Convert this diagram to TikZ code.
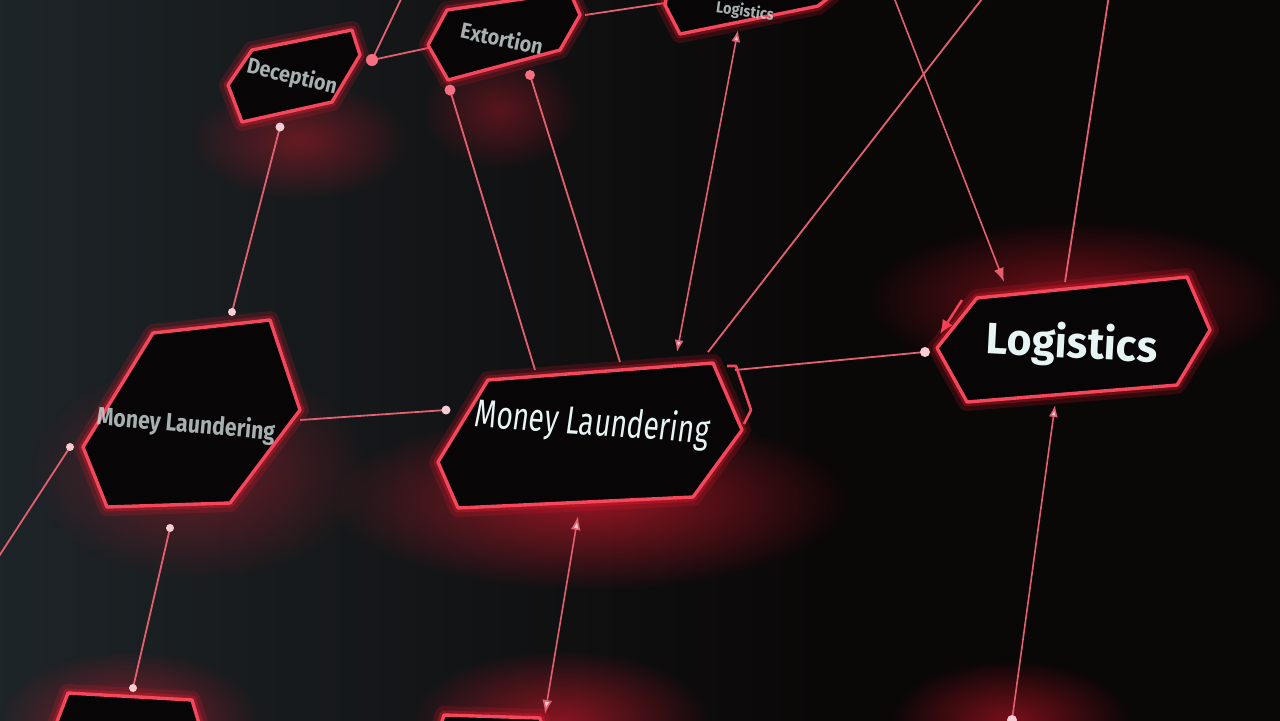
\documentclass[tikz,border=0pt]{standalone}
\usepackage{fontspec}
\setmainfont{Fira Sans}
\usetikzlibrary{fadings,arrows.meta}
\definecolor{bgL}{HTML}{1E2529}
\definecolor{bgR}{HTML}{0A0707}
\definecolor{edge}{HTML}{F4475C}
\definecolor{wire}{HTML}{E2606F}
\definecolor{dotc}{HTML}{F7CDD3}
\definecolor{txt}{HTML}{E6F4F4}
\definecolor{glow}{HTML}{FF1A30}
\definecolor{boxfill}{HTML}{070506}
\tikzfading[name=glowfade, inner color=transparent!0, outer color=transparent!100]
\newcommand\glowhex[1]{%
  \draw[glowA] #1; \draw[glowB] #1; \draw[hexedge] #1;}
\begin{document}
\begin{tikzpicture}[x=0.5pt,y=-0.5pt,
  glowA/.style={draw=glow, line width=9pt, opacity=0.16, line join=round},
  glowB/.style={draw=glow, line width=4.5pt, opacity=0.28, line join=round},
  hexedge/.style={draw=edge, line width=1.7pt, fill=boxfill, line join=round},
  wireline/.style={draw=wire, line width=0.9pt},
  haze/.style={fill=glow, path fading=glowfade},
  dotend/.style={fill=dotc, draw=none},
  lab/.style={text=txt, inner sep=0pt},
  blurlab/.style={text=txt!85!black, inner sep=0pt, opacity=0.85, font=\bfseries\fontsize{11}{12}\selectfont}
]
\useasboundingbox (0,0) rectangle (1280,720);
\clip (0,0) rectangle (1280,720);
% background
\fill[bgR] (-20,-20) rectangle (1300,740);
\shade[left color=bgL, right color=bgR] (-20,-20) rectangle (820,740);
% red haze
\fill[haze, opacity=0.55] (590,500) ellipse [x radius=260, y radius=90];
\fill[haze, opacity=0.45] (1075,300) ellipse [x radius=210, y radius=80];
\fill[haze, opacity=0.35] (300,140) ellipse [x radius=110, y radius=60];
\fill[haze, opacity=0.35] (200,470) ellipse [x radius=170, y radius=110];
\fill[haze, opacity=0.45] (130,720) ellipse [x radius=130, y radius=70];
\fill[haze, opacity=0.5] (560,720) ellipse [x radius=150, y radius=70];
\fill[haze, opacity=0.45] (1010,720) ellipse [x radius=120, y radius=60];
\fill[haze, opacity=0.3] (500,110) ellipse [x radius=80, y radius=60];

% coordinates of connector ends
\coordinate (nTop) at (232,312);
\coordinate (dBot) at (280,127);
\coordinate (nBot) at (170,528);
\coordinate (bTop) at (133,688);
\coordinate (nRight) at (300,420);
\coordinate (mLeft) at (446,410);
\coordinate (nLeft) at (70,447);
\coordinate (offL) at (-10,570);
\coordinate (dJoin) at (372,60);
\coordinate (eLeft) at (428,48);
\coordinate (offT1) at (403,-5);
\coordinate (eRight) at (585,15);
\coordinate (tLeft) at (665,3);
\coordinate (eB1) at (450,90);
\coordinate (eB2) at (530,75);
\coordinate (mT1) at (535,370);
\coordinate (mT2) at (620,362);
\coordinate (tBot) at (738,30);
\coordinate (mT3) at (677,352);
\coordinate (mT4) at (708,352);
\coordinate (offT2) at (985,-5);
\coordinate (offT3) at (893,-5);
\coordinate (lT1) at (1004,282);
\coordinate (lT2) at (1065,282);
\coordinate (offT4) at (1109,-5);
\coordinate (mRight) at (735,370);
\coordinate (lLeft) at (925,352);
\coordinate (rA) at (962,300);
\coordinate (rB) at (940,334);
\coordinate (lBot) at (1055,405);
\coordinate (rBot) at (1012,720);
\coordinate (mBot) at (578,516);
\coordinate (cTop) at (545,714);

% connectors
\draw[wireline] (nTop) -- (dBot);
\draw[wireline] (nBot) -- (bTop);
\draw[wireline] (nRight) -- (mLeft);
\draw[wireline] (nLeft) -- (offL);
\draw[wireline] (dJoin) -- (eLeft);
\draw[wireline] (dJoin) -- (offT1);
\draw[wireline] (eRight) -- (tLeft);
\draw[wireline] (eB1) -- (mT1);
\draw[wireline] (eB2) -- (mT2);
\draw[wireline] (mT4) -- (offT2);
\draw[wireline] (mRight) -- (lLeft);
\draw[wireline] (lT2) -- (offT4);
\draw[wireline, line width=0.8pt, {Latex[length=6pt,width=4.5pt,fill=dotc]}-{Latex[length=6pt,width=4.5pt,fill=dotc]}] (tBot) -- (mT3);
\draw[wireline, line width=0.8pt, -{Latex[length=7pt,width=5pt]}] (offT3) -- (lT1);
\draw[wireline, draw=edge, line width=1.2pt, -{Latex[length=7pt,width=6pt]}] (rA) -- (rB);
\draw[wireline, line width=0.8pt, {Latex[length=7pt,width=5pt,fill=dotc]}-{Latex[length=7pt,width=5pt,fill=dotc]}] (mBot) -- (cTop);
\draw[wireline, line width=0.8pt, {Latex[length=6pt,width=4.5pt,fill=dotc]}-] (lBot) -- (rBot);

% boxes
\glowhex{(438,462) -- (488,380) -- (713,363) -- (742,430) -- (693,497) -- (458,508) -- cycle}
\draw[edge, line width=1.3pt, line join=round] (727,366) -- (736,366) -- (751,410) -- (744,424);
\glowhex{(937,348) -- (977,298) -- (1187,277) -- (1210,330) -- (1177,385) -- (967,402) -- cycle}
\glowhex{(83,447) -- (153,333) -- (270,320) -- (300,410) -- (230,503) -- (107,507) -- cycle}
\glowhex{(228,85) -- (252,50) -- (352,30) -- (360,55) -- (332,102) -- (242,122) -- cycle}
\glowhex{(428,45) -- (447,10) -- (570,-8) -- (580,15) -- (560,50) -- (448,80) -- cycle}
\glowhex{(665,5) -- (672,-30) -- (830,-30) -- (832,-5) -- (818,6) -- (680,34) -- cycle}
\glowhex{(50,740) -- (68,693) -- (192,700) -- (204,740) -- cycle}
\glowhex{(436,740) -- (444,715) -- (540,718) -- (546,740) -- cycle}

% dots
\fill[dotend] (nTop) circle [radius=4];
\fill[dotend] (dBot) circle [radius=4.5];
\fill[dotend] (nBot) circle [radius=4];
\fill[dotend] (bTop) circle [radius=4];
\fill[dotend] (mLeft) circle [radius=4.5];
\fill[dotend] (nLeft) circle [radius=4];
\fill[dotend, fill=edge!70!dotc] (dJoin) circle [radius=6];
\fill[dotend, fill=edge!70!dotc] (eB1) circle [radius=5.5];
\fill[dotend, fill=edge!70!dotc] (eB2) circle [radius=5];
\fill[dotend] (lLeft) circle [radius=5];
\fill[dotend] (rBot) circle [radius=5];

% labels
\node[lab, font=\fontsize{19.5}{21}\selectfont, rotate=-4, xscale=0.72, xslant=0.1] (mlab) at (592,424) {Money Laundering};
\node[lab, font=\bfseries\fontsize{22}{24}\selectfont, rotate=-3, xscale=0.97] (llab) at (1072,345) {Logistics};
\node[blurlab, font=\bfseries\fontsize{12.5}{13}\selectfont, rotate=-5, xscale=0.85] (nlab) at (186,425) {Money Laundering};
\node[blurlab, rotate=-13, xscale=0.9] (dlab) at (292,77) {Deception};
\node[blurlab, rotate=-12, xscale=0.9] (elab) at (502,38) {Extortion};
\node[blurlab, font=\bfseries\fontsize{8}{9}\selectfont, rotate=-8, xscale=0.9] (tlab) at (745,12) {Logistics};
\end{tikzpicture}
\end{document}
